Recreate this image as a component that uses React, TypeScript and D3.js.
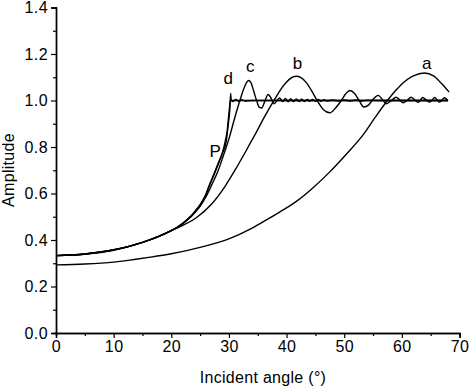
import React, { useRef, useEffect } from 'react'
import * as d3 from 'd3'

// values: [incident angle (deg), amplitude]
const curveA: [number, number][] = [
  [0, 0.293], [5, 0.297], [10, 0.305], [16.3, 0.326], [20, 0.341], [25, 0.368],
  [30.2, 0.407], [33.6, 0.446], [35.9, 0.478], [38.8, 0.52], [41.7, 0.566],
  [44.6, 0.625], [47.5, 0.693], [50.4, 0.77], [53.2, 0.85], [55.3, 0.925],
  [57.5, 1.0], [59, 1.045], [60.5, 1.082], [62, 1.106], [63.9, 1.118],
  [65.5, 1.106], [66.8, 1.075], [68.2, 1.036],
]

const curveB: [number, number][] = [
  [0, 0.333], [5, 0.339], [10, 0.356], [15, 0.39], [18, 0.418], [20, 0.44],
  [22, 0.463], [24.4, 0.497], [27, 0.555], [29.3, 0.63], [31, 0.698], [33, 0.785],
  [34, 0.83], [35, 0.875], [35.9, 0.918], [37, 0.966], [38, 1.008], [39, 1.048],
  [40, 1.08], [41, 1.1], [41.7, 1.104], [42.5, 1.098], [43.5, 1.075], [44.5, 1.035],
  [45.3, 1.0], [46.4, 0.96], [47.5, 0.947], [48.5, 0.968], [49.5, 1.0], [50.3, 1.03],
  [51, 1.043], [51.8, 1.03], [52.6, 1.0], [53.4, 0.972], [54.2, 0.98], [55, 1.005],
  [55.9, 1.022], [56.6, 1.005], [57.3, 0.986], [58.2, 1.0], [59, 1.014], [59.6, 1.003],
  [60.2, 0.99], [60.9, 1.0], [61.6, 1.014], [62.2, 1.004], [62.8, 0.992], [63.2, 1.0],
  [63.6, 1.013], [64.2, 1.003], [64.8, 0.993], [65.2, 1.0], [65.7, 1.013], [66.1, 1.003],
  [66.5, 0.993], [67, 1.003], [67.4, 1.012], [68, 0.998],
]

const curveC: [number, number][] = [
  [0, 0.333], [5, 0.34], [10, 0.357], [15, 0.39], [18, 0.417], [20, 0.44],
  [22, 0.47], [23, 0.49], [24, 0.515], [25, 0.545], [26, 0.585], [27, 0.636],
  [28, 0.69], [29, 0.76], [30, 0.835], [31, 0.925], [31.9, 1.0], [32.5, 1.045],
  [33, 1.075], [33.4, 1.086], [33.8, 1.078], [34.3, 1.04], [34.8, 1.0], [35.3, 0.97],
  [35.7, 0.968], [36.2, 0.995], [36.8, 1.026], [37.2, 1.015], [37.8, 0.986], [38.3, 0.998],
  [38.8, 1.011], [39.3, 0.995], [39.8, 1.009], [40.3, 0.994], [40.7, 1.008], [41.2, 0.995],
  [41.7, 1.007], [42.2, 0.996], [42.6, 1.006], [43.1, 0.996], [43.6, 1.005], [44, 0.997],
  [44.5, 1.004], [45, 0.997], [45.5, 1.004], [46, 0.997], [46.5, 1.003], [47, 0.998],
  [48, 1.002], [49, 0.998], [50, 1.002], [51, 0.998], [52, 1.002], [53, 0.998],
  [54, 1.001], [56, 1.0], [68, 1.0],
]

const curveD: [number, number][] = [
  [0, 0.333], [5, 0.34], [10, 0.358], [15, 0.39], [18, 0.418], [20, 0.44],
  [22, 0.472], [23, 0.493], [24, 0.52], [25, 0.55], [26, 0.593], [26.6, 0.632],
  [27.5, 0.685], [28.3, 0.735], [28.9, 0.775], [29.5, 0.82], [29.9, 0.9],
  [30.15, 0.96], [30.3, 1.03], [30.4, 1.0], [30.7, 0.996], [31.2, 1.004],
  [31.7, 0.996], [32.2, 1.003], [32.8, 0.998], [34, 1.0], [68, 1.0],
]

const curveP: [number, number][] = [
  [0, 0.333], [5, 0.34], [10, 0.358], [15, 0.39], [18, 0.418], [20, 0.44],
  [22, 0.472], [23, 0.493], [24, 0.52], [25, 0.552], [26, 0.597], [26.6, 0.636],
  [27.5, 0.69], [28.3, 0.74], [28.9, 0.778], [29.4, 0.83], [29.7, 0.87],
  [29.9, 0.92], [30.1, 0.97], [30.25, 1.0], [68, 1.0],
]

const curveLabels = [
  { text: 'a', angle: 64.3, amp: 1.134 },
  { text: 'b', angle: 41.9, amp: 1.134 },
  { text: 'c', angle: 33.7, amp: 1.121 },
  { text: 'd', angle: 29.9, amp: 1.07 },
  { text: 'P', angle: 27.6, amp: 0.755 },
]

const angleTicks = [0, 10, 20, 30, 40, 50, 60, 70]
const ampTicks = [0, 0.2, 0.4, 0.6, 0.8, 1.0, 1.2, 1.4]

export default function App() {
  const svgRef = useRef<SVGSVGElement>(null)

  useEffect(() => {
    const w = 474
    const h = 386
    const font = '"Liberation Sans", Arial, sans-serif'
    const svg = d3.select(svgRef.current)
      .attr('width', w)
      .attr('height', h)
      .style('position', 'absolute')
      .style('left', 0)
      .style('top', 0)
      .style('background', '#fff')
    svg.selectAll('*').remove()

    const xScale = d3.scaleLinear().domain([0, 70]).range([56, 459.5])
    const yScale = d3.scaleLinear().domain([0, 1.4]).range([333, 7.5])

    // minor ticks first, then major with labels
    const xMinor = d3.axisBottom(xScale)
      .tickValues(d3.range(5, 70, 10))
      .tickSize(3)
      .tickFormat(() => '')
    const yMinor = d3.axisLeft(yScale)
      .tickValues(d3.range(0.1, 1.4, 0.2))
      .tickSize(3)
      .tickFormat(() => '')
    const xAxis = d3.axisBottom(xScale)
      .tickValues(angleTicks)
      .tickSize(5)
      .tickPadding(3)
      .tickFormat(d => String(d))
    const yAxis = d3.axisLeft(yScale)
      .tickValues(ampTicks)
      .tickSize(5)
      .tickPadding(3)
      .tickFormat(d3.format('.1f'))

    const styleAxis = (g: any) => {
      g.selectAll('path').attr('stroke', '#000').attr('stroke-width', 1.4)
      g.selectAll('line').attr('stroke', '#000').attr('stroke-width', 1.2)
      g.selectAll('text').attr('fill', '#000').style('font-family', font)
        .style('font-size', '16px').style('letter-spacing', '0.4px')
    }

    svg.append('g').attr('transform', 'translate(0, 333)').call(xMinor).call(styleAxis)
    svg.append('g').attr('transform', 'translate(56, 0)').call(yMinor).call(styleAxis)
    svg.append('g').attr('transform', 'translate(0, 333)').call(xAxis).call(styleAxis)
    svg.append('g').attr('transform', 'translate(56, 0)').call(yAxis).call(styleAxis)

    const line = d3.line<[number, number]>()
      .x(d => xScale(d[0]))
      .y(d => yScale(d[1]))
      .curve(d3.curveMonotoneX)

    svg.selectAll('.curve')
      .data([curveA, curveB, curveC, curveD, curveP])
      .join('path')
        .attr('class', 'curve')
        .attr('d', d => line(d))
        .attr('fill', 'none')
        .attr('stroke', '#000')
        .attr('stroke-width', 1.4)

    svg.selectAll('.lbl')
      .data(curveLabels)
      .join('text')
        .attr('class', 'lbl')
        .attr('x', d => xScale(d.angle))
        .attr('y', d => yScale(d.amp))
        .attr('text-anchor', 'middle')
        .style('font-family', font)
        .style('font-size', '17px')
        .text(d => d.text)

    svg.append('text')
      .attr('x', 263)
      .attr('y', 383)
      .attr('text-anchor', 'middle')
      .style('font-family', font)
      .style('font-size', '16px')
      .style('letter-spacing', '0.3px')
      .text('Incident angle (°)')

    svg.append('text')
      .attr('transform', 'translate(14, 170) rotate(-90)')
      .attr('text-anchor', 'middle')
      .style('font-family', font)
      .style('font-size', '16px')
      .style('letter-spacing', '0.3px')
      .text('Amplitude')
  }, [])

  return (
    <div>
      <svg ref={svgRef}></svg>
    </div>
  )
}
